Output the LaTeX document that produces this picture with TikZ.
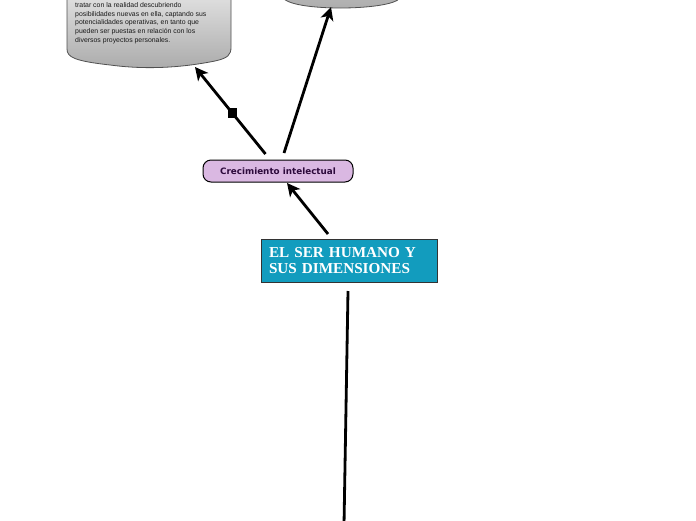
\documentclass[tikz,border=0pt]{standalone}
\usepackage{fontspec}
\setmainfont{Liberation Serif}
\newfontfamily\arialf{Liberation Sans}
\newfontfamily\verdf{DejaVu Sans}
\usetikzlibrary{arrows.meta,calc}
\definecolor{mainblue}{RGB}{18,156,190}
\definecolor{lav}{RGB}{218,184,226}
\definecolor{lavtext}{RGB}{45,10,60}
\definecolor{boxedge}{RGB}{80,80,80}
\tikzset{
  conn/.style={line width=2.8pt,black},
  arr/.style={conn,-{Stealth[length=13pt,width=13pt,inset=3.5pt]}},
  mainbox/.style={draw=black!80,line width=0.8pt,fill=mainblue,text=white,
    minimum width=176pt,minimum height=43pt,inner xsep=8pt,text width=160pt,align=left,
    font=\bfseries\fontsize{15.2}{16}\selectfont},
  subbox/.style={draw=black,line width=1pt,fill=lav,text=lavtext,rounded corners=8pt,
    minimum width=150pt,minimum height=22pt,font=\verdf\bfseries\fontsize{8.8}{10}\selectfont},
  notetext/.style={text=black!90,align=left,inner sep=0pt,anchor=north west,
    font=\arialf\fontsize{6.9}{8.8}\selectfont},
  docshape/.style={draw=boxedge,line width=0.8pt,top color=black!8,bottom color=black!33},
}
\begin{document}
\begin{tikzpicture}[x=1pt,y=-1pt]
\useasboundingbox (0,0) rectangle (696,520);
% left document box
\path[docshape] (67,-20) -- (67,49) .. controls (67,57) and (74,61) .. (110,65)
  .. controls (140,69) and (175,69) .. (215,61) .. controls (228,58) and (231,55) .. (231,47) -- (231,-20) -- cycle;
\node[notetext] (note) at (75,2) {tratar con la realidad descubriendo\\posibilidades nuevas en ella, captando sus\\potencialidades operativas, en tanto que\\pueden ser puestas en relación con los\\diversos proyectos personales.};
% top right document box
\path[docshape,top color=black!25,bottom color=black!32] (283,-20) -- (283,-2) .. controls (290,6) and (320,8) .. (341,8)
  .. controls (365,8) and (395,5) .. (400,-2) -- (400,-20) -- cycle;
% nodes
\node[mainbox] (main) at (349,260.5) {\raisebox{-1.5pt}{EL SER HUMANO Y}\\\raisebox{-1.5pt}{SUS DIMENSIONES}};
\node[subbox] (crec) at (278,171) {Crecimiento intelectual};
% connector ends
\coordinate (mainA) at (328,234);
\coordinate (crecB) at (287,183);
\coordinate (crecL) at (265.5,154);
\coordinate (crecR) at (284,153);
\coordinate (noteB) at (195,67);
\coordinate (topB) at (331,7);
\coordinate (mainB) at (348,291);
\coordinate (down) at (344,525);
\draw[arr] (mainA) -- (crecB);
\draw[arr] (crecL) -- (noteB);
\draw[arr] (crecR) -- (topB);
\draw[conn] (mainB) -- (down);
\fill[black] ($(crecL)!0.47!(noteB)$) +(-4.5,-5) rectangle +(4.5,5);
\end{tikzpicture}
\end{document}
